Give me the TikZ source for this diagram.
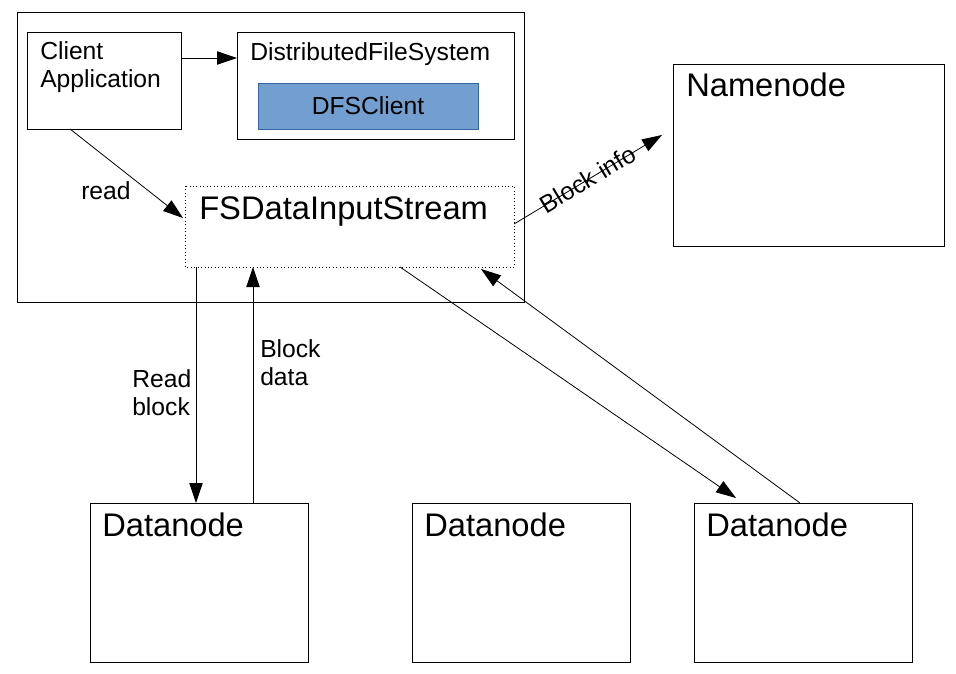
\documentclass[tikz,border=0pt]{standalone}
\usepackage{fontspec}
\setmainfont{Liberation Sans}
\usetikzlibrary{arrows.meta}
\begin{document}
\begin{tikzpicture}[x=0.75pt,y=-0.75pt,
  box/.style={draw,line width=0.6pt},
  small/.style={font=\fontsize{18.5}{21}\selectfont,align=left,anchor=north west,inner sep=0},
  big/.style={font=\fontsize{24.5}{28}\selectfont,anchor=north west,inner sep=0},
  arr/.style={-{Triangle[length=15pt,width=10pt]},line width=0.6pt}]
\useasboundingbox (0,0) rectangle (956,674);
\draw[box] (17,12) rectangle (524,302);
\draw[box] (27,32) rectangle (181,129);
\node[small] (ca) at (40,41) {Client\\Application};
\draw[box] (237,32) rectangle (514,139);
\node[small] (dfs) at (250,42) {DistributedFileSystem};
\draw[fill={rgb,255:red,114;green,159;blue,207},draw={rgb,255:red,52;green,101;blue,164}] (258,83) rectangle (478,129);
\node[font=\fontsize{18.5}{21}\selectfont] (dc) at (368,106) {DFSClient};
\draw[dotted,line width=0.6pt] (185,186) rectangle (514,267);
\node[big] (fs) at (199,196) {FSDataInputStream};
\draw[box] (673,64) rectangle (944,246);
\node[big] (nn) at (686,73) {Namenode};
\foreach \x/\n in {90/d1,412/d2,694/d3}{
  \draw[box] (\x,503) rectangle ++(218,159);
  \node[big] (\n) at (\x+12,513) {Datanode};
}
\coordinate (a1) at (181,58); \coordinate (a2) at (237,58);
\draw[arr] (a1) -- (a2);
\coordinate (r1) at (70,129); \coordinate (r2) at (183,218);
\draw[arr] (r1) -- (r2);
\node[small] (rd) at (81,181) {read};
\coordinate (b1) at (514,224); \coordinate (b2) at (662,135);
\draw[arr] (b1) -- (b2);
\node[font=\fontsize{18.5}{21}\selectfont,rotate=31] (bi) at (588,179) {Block info};
\coordinate (c1) at (196,267); \coordinate (c2) at (196,503);
\draw[arr] (c1) -- (c2);
\node[small] (rb) at (132,369) {Read\\block};
\coordinate (e1) at (253,503); \coordinate (e2) at (253,267);
\draw[arr] (e1) -- (e2);
\node[small] (bd) at (260,339) {Block\\data};
\coordinate (f1) at (400,267); \coordinate (f2) at (736,498);
\draw[arr] (f1) -- (f2);
\coordinate (g1) at (800,503); \coordinate (g2) at (481,269);
\draw[arr] (g1) -- (g2);
\end{tikzpicture}
\end{document}
